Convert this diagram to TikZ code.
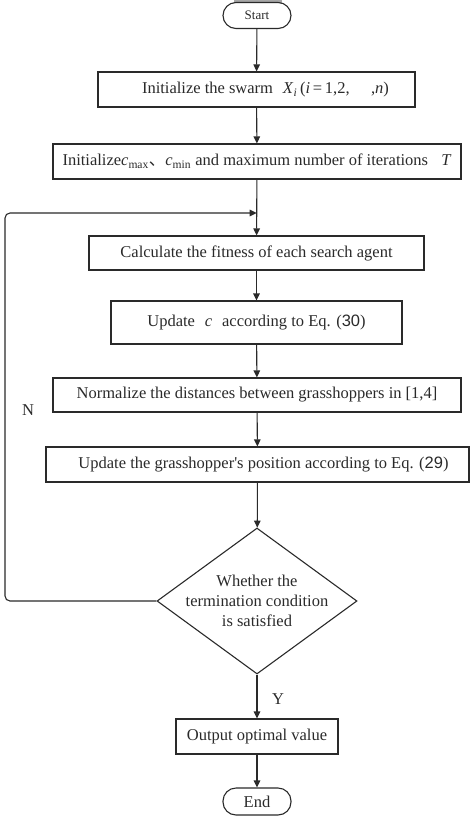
\documentclass[tikz,border=0pt]{standalone}
\usepackage{fontspec}
\setmainfont{Liberation Serif}
\setsansfont{Liberation Sans}
\newfontfamily\cjkfont{Noto Sans CJK SC}
\usetikzlibrary{shapes.geometric,arrows.meta}
\definecolor{ink}{HTML}{2A2A2A}
\begin{document}
\begin{tikzpicture}[x=1pt,y=1pt,
  line width=1.1pt, draw=ink,
  every node/.style={text=ink, font=\fontsize{16.5}{20}\selectfont, inner sep=0pt},
  procbox/.style={draw=ink, rectangle, line width=1.1pt},
  termbox/.style={draw=ink, rectangle, rounded corners=13pt, line width=1.1pt, minimum width=68pt},
  decbox/.style={draw=ink, diamond, line width=1.1pt},
  flow/.style={-{Triangle[length=7pt,width=6.5pt]}, line width=1.1pt, ink}]
\useasboundingbox (0,0) rectangle (474,-820);
\fill[gray!70] (234,0) rectangle (282,-2.5);
\node[termbox, minimum height=26pt, font=\fontsize{13}{15}\selectfont] (start) at (257,-15.5) {Start};
\node[procbox, minimum width=317pt, minimum height=35pt] (init) at (256.5,-89.5)
  {\hspace{18pt}Initialize the swarm\hspace{0.6em}\textit{X}\textsubscript{\textit{i}}\,(\textit{i}\,=\,1,2,\hspace{1.3em},\textit{n})};
\node[procbox, minimum width=408pt, minimum height=35pt] (initc) at (257,-161.5)
  {Initialize\textit{c}\textsubscript{max}{\cjkfont 、}\textit{c}\textsubscript{min} and maximum number of iterations\hspace{0.8em}\textit{T}\hspace{14pt}};
\coordinate (j) at (256.7,-213);
\node[procbox, minimum width=335pt, minimum height=34pt] (calc) at (256.5,-253)
  {Calculate the fitness of each search agent};
\node[procbox, minimum width=291pt, minimum height=43pt] (updc) at (256.5,-322.5)
  {Update\hspace{0.6em}\textit{c}\hspace{0.6em}according to Eq. ({\sffamily 30})};
\node[procbox, minimum width=408pt, minimum height=34pt] (norm) at (257,-395)
  {Normalize the distances between grasshoppers in [1,4]};
\node[procbox, minimum width=423pt, minimum height=35pt] (pos) at (257.5,-464.5)
  {\hspace{12pt}Update the grasshopper\textquotesingle s position according to Eq. ({\sffamily 29})};
\node[decbox, minimum width=200pt, minimum height=146pt] (dec) at (257,-601) {};
\node[align=center] (dectext) at (dec.center) {Whether the\\termination condition\\is satisfied};
\node[procbox, minimum width=162pt, minimum height=35pt] (out) at (257,-736.5)
  {Output optimal value};
\node[termbox, minimum height=27pt] (end) at (257,-801.5) {End};
\node (nlab) at (28,-410) {N};
\node (ylab) at (278,-699) {Y};
\coordinate (fbl) at (5,-601);
\coordinate (fbt) at (5,-213);
\draw[flow] (start) -- (init);
\draw[flow] (init) -- (initc);
\draw[flow] (initc) -- (calc);
\draw[flow] (calc) -- (updc);
\draw[flow] (updc) -- (norm);
\draw[flow] (norm) -- (pos);
\draw[flow] (pos) -- (dec);
\draw[flow] (dec) -- (out);
\draw[flow] (out) -- (end);
\draw[flow, rounded corners=5pt] (dec.west) -- (fbl) -- (fbt) -- (j);
\end{tikzpicture}
\end{document}
